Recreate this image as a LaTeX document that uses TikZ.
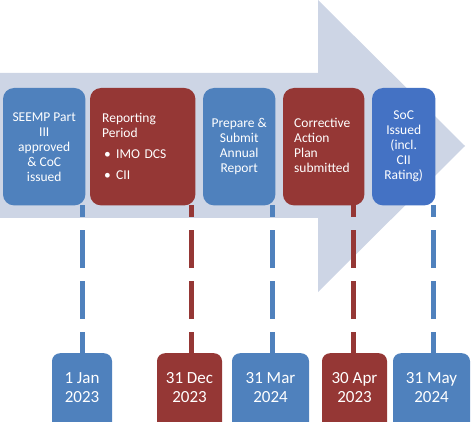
\documentclass[tikz,border=0pt]{standalone}
\usepackage{fontspec}
\setmainfont{Carlito}
\definecolor{cblue}{HTML}{4F81BD}
\definecolor{cblue2}{HTML}{4472C4}
\definecolor{cred}{HTML}{953735}
\definecolor{carrow}{HTML}{CDD5E5}
\begin{document}
\begin{tikzpicture}[x=1pt,y=-1pt,
  topbox/.style={rounded corners=11pt, minimum height=117pt, anchor=north west, inner sep=0pt,
    text=white, font=\fontsize{13.5}{15}\selectfont},
  datebox/.style={rounded corners=8pt, minimum height=90pt, anchor=north, inner sep=0pt},
  datetext/.style={text=white, font=\fontsize{17}{19}\selectfont, align=center, inner sep=0pt},
  conn/.style={line width=4.5pt, dash pattern=on 38pt off 13pt, dash phase=26pt}]
\clip (0,0) rectangle (474,422);
% big arrow
\fill[carrow] (0,73) -- (318,73) -- (318,0) -- (465,146) -- (318,292) -- (318,218) -- (0,218) -- cycle;

% top boxes (positions)
\path (3,88) node[topbox, minimum width=82pt, align=center] (b1) {};
\path (90,88) node[topbox, minimum width=105pt] (b2) {};
\path (203,88) node[topbox, minimum width=72pt] (b3) {};
\path (283,88) node[topbox, minimum width=81pt] (b4) {};
\path (372,88) node[topbox, minimum width=63pt] (b5) {};

% bottom boxes
\node[datebox, fill=cblue, minimum width=60pt] (d1) at (82,353) {};
\node[datebox, fill=cred, minimum width=65pt] (d2) at (189.5,353) {};
\node[datebox, fill=cblue, minimum width=77pt] (d3) at (270.5,353) {};
\node[datebox, fill=cred, minimum width=65pt] (d4) at (354.5,353) {};
\node[datebox, fill=cblue, minimum width=77pt] (d5) at (431.5,353) {};

% connectors
\draw[conn, cblue] ([xshift=-3pt]b1.south east) -- ([xshift=-3pt]b1.south east |- d1.north);
\draw[conn, cred] ([xshift=-4pt]b2.south east) -- ([xshift=-4pt]b2.south east |- d2.north);
\draw[conn, cblue] ([xshift=-3pt]b3.south east) -- ([xshift=-3pt]b3.south east |- d3.north);
\draw[conn, cred] ([xshift=-11pt]b4.south east) -- ([xshift=-11pt]b4.south east |- d4.north);
\draw[conn, cblue] ([xshift=-2pt]b5.south east) -- ([xshift=-2pt]b5.south east |- d5.north);

% top boxes drawn
\fill[cblue, rounded corners=11pt] (b1.north west) rectangle (b1.south east);
\fill[cred, rounded corners=11pt] (b2.north west) rectangle (b2.south east);
\fill[cblue, rounded corners=11pt] (b3.north west) rectangle (b3.south east);
\fill[cred, rounded corners=11pt] (b4.north west) rectangle (b4.south east);
\fill[cblue2, rounded corners=11pt] (b5.north west) rectangle (b5.south east);

% top texts
\node[topbox, anchor=center, align=center] (t1) at (b1.center) {SEEMP Part\\III\\approved\\\& CoC\\issued};
\node[topbox, anchor=center, align=left, text width=81pt] (t2) at (b2.center)
  {Reporting\\Period\\[6pt]\hspace*{2pt}\makebox[12pt][l]{•}IMO DCS\\[6pt]\hspace*{2pt}\makebox[12pt][l]{•}CII};
\node[topbox, anchor=center, align=center] (t3) at (b3.center) {Prepare \&\\Submit\\Annual\\Report};
\node[topbox, anchor=center, align=left, text width=59pt] (t4) at ([yshift=1pt]b4.center) {Corrective\\Action\\Plan\\submitted};
\node[topbox, anchor=center, align=center] (t5) at (b5.center) {SoC\\Issued\\(incl.\\CII\\Rating)};

% bottom texts
\node[datetext] (e1) at ([yshift=-34.5pt]d1.north) {1 Jan\\2023};
\node[datetext] (e2) at ([yshift=-34.5pt]d2.north) {31 Dec\\2023};
\node[datetext] (e3) at ([yshift=-34.5pt]d3.north) {31 Mar\\2024};
\node[datetext] (e4) at ([yshift=-34.5pt]d4.north) {30 Apr\\2023};
\node[datetext] (e5) at ([yshift=-34.5pt]d5.north) {31 May\\2024};
\end{tikzpicture}
\end{document}
